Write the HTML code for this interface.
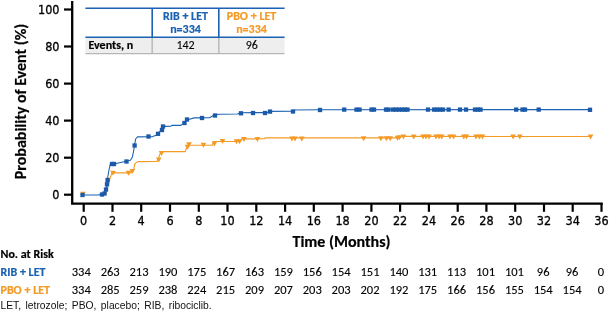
<!DOCTYPE html>
<html><head><meta charset="utf-8"><title>Kaplan-Meier chart</title>
<style>
html,body{margin:0;padding:0;background:#fff;width:609px;height:312px;overflow:hidden}
svg{display:block}
.tk{font-family:"DejaVu Sans","Liberation Sans",sans-serif;font-stretch:condensed;font-size:12.5px;fill:#000;stroke:#000;stroke-width:0.3px}
.cb{font-family:Carlito,"Liberation Sans",sans-serif;font-weight:bold;fill:#000;stroke:#000;stroke-width:0.2px}
.cr{font-family:Carlito,"Liberation Sans",sans-serif;fill:#000;stroke:#000;stroke-width:0.12px}
.ar{font-family:"Liberation Sans",Arial,sans-serif;fill:#111}
</style></head><body>
<svg width="609" height="312" viewBox="0 0 609 312">
<path d="M72.2 1 V203.6 H602.8" fill="none" stroke="#000" stroke-width="2.3" stroke-linejoin="miter"/>
<line x1="64" x2="72" y1="194.7" y2="194.7" stroke="#000" stroke-width="2.2"/>
<text x="59.5" y="199.3" class="tk" text-anchor="end">0</text>
<line x1="64" x2="72" y1="157.7" y2="157.7" stroke="#000" stroke-width="2.2"/>
<text x="59.5" y="162.3" class="tk" text-anchor="end">20</text>
<line x1="64" x2="72" y1="120.6" y2="120.6" stroke="#000" stroke-width="2.2"/>
<text x="59.5" y="125.2" class="tk" text-anchor="end">40</text>
<line x1="64" x2="72" y1="83.6" y2="83.6" stroke="#000" stroke-width="2.2"/>
<text x="59.5" y="88.2" class="tk" text-anchor="end">60</text>
<line x1="64" x2="72" y1="46.5" y2="46.5" stroke="#000" stroke-width="2.2"/>
<text x="59.5" y="51.1" class="tk" text-anchor="end">80</text>
<line x1="64" x2="72" y1="9.5" y2="9.5" stroke="#000" stroke-width="2.2"/>
<text x="59.5" y="14.1" class="tk" text-anchor="end">100</text>
<line x1="83.7" x2="83.7" y1="203.5" y2="211.8" stroke="#000" stroke-width="2.2"/>
<text x="83.7" y="225" class="tk" text-anchor="middle">0</text>
<line x1="112.5" x2="112.5" y1="203.5" y2="211.8" stroke="#000" stroke-width="2.2"/>
<text x="112.5" y="225" class="tk" text-anchor="middle">2</text>
<line x1="141.2" x2="141.2" y1="203.5" y2="211.8" stroke="#000" stroke-width="2.2"/>
<text x="141.2" y="225" class="tk" text-anchor="middle">4</text>
<line x1="170.0" x2="170.0" y1="203.5" y2="211.8" stroke="#000" stroke-width="2.2"/>
<text x="170.0" y="225" class="tk" text-anchor="middle">6</text>
<line x1="198.8" x2="198.8" y1="203.5" y2="211.8" stroke="#000" stroke-width="2.2"/>
<text x="198.8" y="225" class="tk" text-anchor="middle">8</text>
<line x1="227.5" x2="227.5" y1="203.5" y2="211.8" stroke="#000" stroke-width="2.2"/>
<text x="227.5" y="225" class="tk" text-anchor="middle">10</text>
<line x1="256.3" x2="256.3" y1="203.5" y2="211.8" stroke="#000" stroke-width="2.2"/>
<text x="256.3" y="225" class="tk" text-anchor="middle">12</text>
<line x1="285.1" x2="285.1" y1="203.5" y2="211.8" stroke="#000" stroke-width="2.2"/>
<text x="285.1" y="225" class="tk" text-anchor="middle">14</text>
<line x1="313.8" x2="313.8" y1="203.5" y2="211.8" stroke="#000" stroke-width="2.2"/>
<text x="313.8" y="225" class="tk" text-anchor="middle">16</text>
<line x1="342.6" x2="342.6" y1="203.5" y2="211.8" stroke="#000" stroke-width="2.2"/>
<text x="342.6" y="225" class="tk" text-anchor="middle">18</text>
<line x1="371.4" x2="371.4" y1="203.5" y2="211.8" stroke="#000" stroke-width="2.2"/>
<text x="371.4" y="225" class="tk" text-anchor="middle">20</text>
<line x1="400.1" x2="400.1" y1="203.5" y2="211.8" stroke="#000" stroke-width="2.2"/>
<text x="400.1" y="225" class="tk" text-anchor="middle">22</text>
<line x1="428.9" x2="428.9" y1="203.5" y2="211.8" stroke="#000" stroke-width="2.2"/>
<text x="428.9" y="225" class="tk" text-anchor="middle">24</text>
<line x1="457.7" x2="457.7" y1="203.5" y2="211.8" stroke="#000" stroke-width="2.2"/>
<text x="457.7" y="225" class="tk" text-anchor="middle">26</text>
<line x1="486.4" x2="486.4" y1="203.5" y2="211.8" stroke="#000" stroke-width="2.2"/>
<text x="486.4" y="225" class="tk" text-anchor="middle">28</text>
<line x1="515.2" x2="515.2" y1="203.5" y2="211.8" stroke="#000" stroke-width="2.2"/>
<text x="515.2" y="225" class="tk" text-anchor="middle">30</text>
<line x1="544.0" x2="544.0" y1="203.5" y2="211.8" stroke="#000" stroke-width="2.2"/>
<text x="544.0" y="225" class="tk" text-anchor="middle">32</text>
<line x1="572.7" x2="572.7" y1="203.5" y2="211.8" stroke="#000" stroke-width="2.2"/>
<text x="572.7" y="225" class="tk" text-anchor="middle">34</text>
<line x1="601.5" x2="601.5" y1="203.5" y2="211.8" stroke="#000" stroke-width="2.2"/>
<text x="601.5" y="225" class="tk" text-anchor="middle">36</text>
<polyline points="106.3,193.5 107.5,188 109.7,179.5 111.8,173.2 115,172.9 130,172.9 133.5,171 134.3,166 135,163.5 137.9,161.6 157,161.5 158.5,158 160,154 162,151.6 185.3,151.6 186.5,148 188,145.2 212.5,145.1 213.5,141.5 240.5,141.4 241.5,138.9 264.4,138.8 265,137.9 398,137.9 402,136.4 590.6,136.5" fill="none" stroke="#f49a26" stroke-width="1.1" stroke-linejoin="round"/>
<path d="M80.2 191.7h5.6l-2.8 5z" fill="#f49a26"/>
<path d="M110.2 170.7h5.6l-2.8 5z" fill="#f49a26"/>
<path d="M125.7 170.7h5.6l-2.8 5z" fill="#f49a26"/>
<path d="M129.5 169.1h5.6l-2.8 5z" fill="#f49a26"/>
<path d="M156.0 157.5h5.6l-2.8 5z" fill="#f49a26"/>
<path d="M158.7 151.0h5.6l-2.8 5z" fill="#f49a26"/>
<path d="M184.7 144.7h5.6l-2.8 5z" fill="#f49a26"/>
<path d="M186.2 142.2h5.6l-2.8 5z" fill="#f49a26"/>
<path d="M200.6 142.7h5.6l-2.8 5z" fill="#f49a26"/>
<path d="M211.6 141.6h5.6l-2.8 5z" fill="#f49a26"/>
<path d="M219.7 139.1h5.6l-2.8 5z" fill="#f49a26"/>
<path d="M233.7 139.3h5.6l-2.8 5z" fill="#f49a26"/>
<path d="M236.7 139.3h5.6l-2.8 5z" fill="#f49a26"/>
<path d="M241.2 137.1h5.6l-2.8 5z" fill="#f49a26"/>
<path d="M254.6 136.9h5.6l-2.8 5z" fill="#f49a26"/>
<path d="M289.2 136.4h5.6l-2.8 5z" fill="#f49a26"/>
<path d="M292.2 136.4h5.6l-2.8 5z" fill="#f49a26"/>
<path d="M299.0 136.4h5.6l-2.8 5z" fill="#f49a26"/>
<path d="M360.8 136.2h5.6l-2.8 5z" fill="#f49a26"/>
<path d="M378.1 136.2h5.6l-2.8 5z" fill="#f49a26"/>
<path d="M383.7 136.2h5.6l-2.8 5z" fill="#f49a26"/>
<path d="M387.4 136.2h5.6l-2.8 5z" fill="#f49a26"/>
<path d="M394.7 135.7h5.6l-2.8 5z" fill="#f49a26"/>
<path d="M396.7 135.2h5.6l-2.8 5z" fill="#f49a26"/>
<path d="M400.7 134.4h5.6l-2.8 5z" fill="#f49a26"/>
<path d="M410.9 134.4h5.6l-2.8 5z" fill="#f49a26"/>
<path d="M420.2 134.4h5.6l-2.8 5z" fill="#f49a26"/>
<path d="M423.2 134.4h5.6l-2.8 5z" fill="#f49a26"/>
<path d="M426.2 134.4h5.6l-2.8 5z" fill="#f49a26"/>
<path d="M433.2 134.4h5.6l-2.8 5z" fill="#f49a26"/>
<path d="M436.2 134.4h5.6l-2.8 5z" fill="#f49a26"/>
<path d="M439.0 134.4h5.6l-2.8 5z" fill="#f49a26"/>
<path d="M447.2 134.4h5.6l-2.8 5z" fill="#f49a26"/>
<path d="M450.7 134.4h5.6l-2.8 5z" fill="#f49a26"/>
<path d="M461.0 134.4h5.6l-2.8 5z" fill="#f49a26"/>
<path d="M463.7 134.4h5.6l-2.8 5z" fill="#f49a26"/>
<path d="M473.2 134.4h5.6l-2.8 5z" fill="#f49a26"/>
<path d="M476.7 134.4h5.6l-2.8 5z" fill="#f49a26"/>
<path d="M479.7 134.4h5.6l-2.8 5z" fill="#f49a26"/>
<path d="M510.3 134.4h5.6l-2.8 5z" fill="#f49a26"/>
<path d="M517.0 134.4h5.6l-2.8 5z" fill="#f49a26"/>
<path d="M587.8 134.4h5.6l-2.8 5z" fill="#f49a26"/>
<polyline points="83,195 98,195 100,194.6 104,193.6 105.8,190 106.8,185 107.6,178 109,170 110.3,164.2 115,163.8 124,161.7 130.4,160.2 132.4,157 133.6,151 134.6,145 135.6,139 137.5,136.9 152.8,136.6 156,135.2 158.5,133.5 160.5,130.5 162.3,127.3 164.4,126.4 170.8,126.3 171.8,125.4 180.8,125.4 184,123 187,119.9 189.5,119.2 194.2,117.9 209.6,117.8 213.3,115.5 218.3,114.2 237.6,114 240,112.7 267.4,112.6 268.8,111.4 292,111.3 295.3,110 320,109.8 590,109.6" fill="none" stroke="#1b62b3" stroke-width="1.1" stroke-linejoin="round"/>
<rect x="80.35" y="192.85" width="4.3" height="4.3" fill="#1a5aa8"/>
<rect x="99.85" y="192.35" width="4.3" height="4.3" fill="#1a5aa8"/>
<rect x="102.35" y="191.35" width="4.3" height="4.3" fill="#1a5aa8"/>
<rect x="103.85" y="187.35" width="4.3" height="4.3" fill="#1a5aa8"/>
<rect x="104.85" y="182.15" width="4.3" height="4.3" fill="#1a5aa8"/>
<rect x="105.45" y="177.85" width="4.3" height="4.3" fill="#1a5aa8"/>
<rect x="109.85" y="161.85" width="4.3" height="4.3" fill="#1a5aa8"/>
<rect x="111.85" y="161.85" width="4.3" height="4.3" fill="#1a5aa8"/>
<rect x="124.35" y="159.35" width="4.3" height="4.3" fill="#1a5aa8"/>
<rect x="132.45" y="143.35" width="4.3" height="4.3" fill="#1a5aa8"/>
<rect x="146.35" y="134.35" width="4.3" height="4.3" fill="#1a5aa8"/>
<rect x="155.85" y="131.65" width="4.3" height="4.3" fill="#1a5aa8"/>
<rect x="159.85" y="127.85" width="4.3" height="4.3" fill="#1a5aa8"/>
<rect x="160.85" y="124.35" width="4.3" height="4.3" fill="#1a5aa8"/>
<rect x="182.35" y="120.85" width="4.3" height="4.3" fill="#1a5aa8"/>
<rect x="184.85" y="117.35" width="4.3" height="4.3" fill="#1a5aa8"/>
<rect x="199.85" y="115.85" width="4.3" height="4.3" fill="#1a5aa8"/>
<rect x="212.85" y="113.35" width="4.3" height="4.3" fill="#1a5aa8"/>
<rect x="238.85" y="111.15" width="4.3" height="4.3" fill="#1a5aa8"/>
<rect x="250.85" y="110.85" width="4.3" height="4.3" fill="#1a5aa8"/>
<rect x="262.85" y="110.85" width="4.3" height="4.3" fill="#1a5aa8"/>
<rect x="267.85" y="109.45" width="4.3" height="4.3" fill="#1a5aa8"/>
<rect x="290.85" y="109.35" width="4.3" height="4.3" fill="#1a5aa8"/>
<rect x="317.85" y="107.85" width="4.3" height="4.3" fill="#1a5aa8"/>
<rect x="342.05" y="107.45" width="4.3" height="4.3" fill="#1a5aa8"/>
<rect x="354.35" y="107.45" width="4.3" height="4.3" fill="#1a5aa8"/>
<rect x="357.35" y="107.45" width="4.3" height="4.3" fill="#1a5aa8"/>
<rect x="369.35" y="107.45" width="4.3" height="4.3" fill="#1a5aa8"/>
<rect x="371.85" y="107.45" width="4.3" height="4.3" fill="#1a5aa8"/>
<rect x="383.85" y="107.45" width="4.3" height="4.3" fill="#1a5aa8"/>
<rect x="386.35" y="107.45" width="4.3" height="4.3" fill="#1a5aa8"/>
<rect x="390.85" y="107.45" width="4.3" height="4.3" fill="#1a5aa8"/>
<rect x="393.85" y="107.45" width="4.3" height="4.3" fill="#1a5aa8"/>
<rect x="396.85" y="107.45" width="4.3" height="4.3" fill="#1a5aa8"/>
<rect x="399.85" y="107.45" width="4.3" height="4.3" fill="#1a5aa8"/>
<rect x="402.85" y="107.45" width="4.3" height="4.3" fill="#1a5aa8"/>
<rect x="405.35" y="107.45" width="4.3" height="4.3" fill="#1a5aa8"/>
<rect x="425.85" y="107.45" width="4.3" height="4.3" fill="#1a5aa8"/>
<rect x="431.85" y="107.45" width="4.3" height="4.3" fill="#1a5aa8"/>
<rect x="434.85" y="107.45" width="4.3" height="4.3" fill="#1a5aa8"/>
<rect x="437.85" y="107.45" width="4.3" height="4.3" fill="#1a5aa8"/>
<rect x="440.85" y="107.45" width="4.3" height="4.3" fill="#1a5aa8"/>
<rect x="446.45" y="107.45" width="4.3" height="4.3" fill="#1a5aa8"/>
<rect x="457.85" y="107.45" width="4.3" height="4.3" fill="#1a5aa8"/>
<rect x="463.85" y="107.45" width="4.3" height="4.3" fill="#1a5aa8"/>
<rect x="472.85" y="107.45" width="4.3" height="4.3" fill="#1a5aa8"/>
<rect x="475.85" y="107.45" width="4.3" height="4.3" fill="#1a5aa8"/>
<rect x="478.35" y="107.45" width="4.3" height="4.3" fill="#1a5aa8"/>
<rect x="514.05" y="107.45" width="4.3" height="4.3" fill="#1a5aa8"/>
<rect x="520.35" y="107.45" width="4.3" height="4.3" fill="#1a5aa8"/>
<rect x="522.85" y="107.45" width="4.3" height="4.3" fill="#1a5aa8"/>
<rect x="536.55" y="107.45" width="4.3" height="4.3" fill="#1a5aa8"/>
<rect x="587.85" y="107.65" width="4.3" height="4.3" fill="#1a5aa8"/>
<text textLength="98.05" lengthAdjust="spacingAndGlyphs" x="341.5" y="246.5" class="cb" font-size="16" text-anchor="middle">Time (Months)</text>
<text textLength="155.59" lengthAdjust="spacingAndGlyphs" transform="translate(25.6,101.5) rotate(-90)" class="cb" font-size="16" text-anchor="middle">Probability of Event (%)</text>
<rect x="85.4" y="37.9" width="199.2" height="15.2" fill="#eeeeee"/>
<line x1="85.4" x2="284.6" y1="8.3" y2="8.3" stroke="#1b62b3" stroke-width="1.4"/>
<line x1="85.4" x2="284.6" y1="37.2" y2="37.2" stroke="#1b62b3" stroke-width="1.4"/>
<line x1="152.2" x2="152.2" y1="8.3" y2="37.2" stroke="#1b62b3" stroke-width="1.6"/>
<line x1="218.8" x2="218.8" y1="8.3" y2="37.2" stroke="#1b62b3" stroke-width="1.6"/>
<line x1="85.4" x2="284.6" y1="53.6" y2="53.6" stroke="#b6b6b6" stroke-width="1.2"/>
<line x1="152.2" x2="152.2" y1="37.9" y2="53" stroke="#bdbdbd" stroke-width="1.6"/>
<line x1="218.8" x2="218.8" y1="37.9" y2="53" stroke="#bdbdbd" stroke-width="1.6"/>
<text textLength="44.95" lengthAdjust="spacingAndGlyphs" x="185.5" y="19.6" class="cb" font-size="12" style="fill:#1b62b3;stroke:#1b62b3" text-anchor="middle">RIB + LET</text>
<text textLength="30.67" lengthAdjust="spacingAndGlyphs" x="185.5" y="32.7" class="cb" font-size="12" style="fill:#1b62b3;stroke:#1b62b3" text-anchor="middle">n=334</text>
<text textLength="49.50" lengthAdjust="spacingAndGlyphs" x="251.5" y="19.6" class="cb" font-size="12" style="fill:#f49a26;stroke:#f49a26" text-anchor="middle">PBO + LET</text>
<text textLength="30.67" lengthAdjust="spacingAndGlyphs" x="251.5" y="32.7" class="cb" font-size="12" style="fill:#f49a26;stroke:#f49a26" text-anchor="middle">n=334</text>
<text textLength="44.67" lengthAdjust="spacingAndGlyphs" x="88.5" y="48.5" class="cb" font-size="12">Events, n</text>
<text textLength="18.25" lengthAdjust="spacingAndGlyphs" x="185.5" y="49" class="cr" font-size="12" text-anchor="middle">142</text>
<text textLength="12.17" lengthAdjust="spacingAndGlyphs" x="251.8" y="49" class="cr" font-size="12" text-anchor="middle">96</text>
<text textLength="53.22" lengthAdjust="spacingAndGlyphs" x="0.5" y="258.4" class="cb" font-size="12">No. at Risk</text>
<text textLength="44.95" lengthAdjust="spacingAndGlyphs" x="0.5" y="275.8" class="cb" font-size="12" style="fill:#1b62b3;stroke:#1b62b3">RIB + LET</text>
<text textLength="49.50" lengthAdjust="spacingAndGlyphs" x="0.5" y="293.7" class="cb" font-size="12" style="fill:#f49a26;stroke:#f49a26">PBO + LET</text>
<text textLength="19.02" lengthAdjust="spacingAndGlyphs" x="81.3" y="275.9" class="cr" font-size="12.5" text-anchor="middle">334</text>
<text textLength="19.02" lengthAdjust="spacingAndGlyphs" x="81.3" y="293.7" class="cr" font-size="12.5" text-anchor="middle">334</text>
<text textLength="19.02" lengthAdjust="spacingAndGlyphs" x="110.2" y="275.9" class="cr" font-size="12.5" text-anchor="middle">263</text>
<text textLength="19.02" lengthAdjust="spacingAndGlyphs" x="110.2" y="293.7" class="cr" font-size="12.5" text-anchor="middle">285</text>
<text textLength="19.02" lengthAdjust="spacingAndGlyphs" x="139.0" y="275.9" class="cr" font-size="12.5" text-anchor="middle">213</text>
<text textLength="19.02" lengthAdjust="spacingAndGlyphs" x="139.0" y="293.7" class="cr" font-size="12.5" text-anchor="middle">259</text>
<text textLength="19.02" lengthAdjust="spacingAndGlyphs" x="167.9" y="275.9" class="cr" font-size="12.5" text-anchor="middle">190</text>
<text textLength="19.02" lengthAdjust="spacingAndGlyphs" x="167.9" y="293.7" class="cr" font-size="12.5" text-anchor="middle">238</text>
<text textLength="19.02" lengthAdjust="spacingAndGlyphs" x="196.8" y="275.9" class="cr" font-size="12.5" text-anchor="middle">175</text>
<text textLength="19.02" lengthAdjust="spacingAndGlyphs" x="196.8" y="293.7" class="cr" font-size="12.5" text-anchor="middle">224</text>
<text textLength="19.02" lengthAdjust="spacingAndGlyphs" x="225.6" y="275.9" class="cr" font-size="12.5" text-anchor="middle">167</text>
<text textLength="19.02" lengthAdjust="spacingAndGlyphs" x="225.6" y="293.7" class="cr" font-size="12.5" text-anchor="middle">215</text>
<text textLength="19.02" lengthAdjust="spacingAndGlyphs" x="254.5" y="275.9" class="cr" font-size="12.5" text-anchor="middle">163</text>
<text textLength="19.02" lengthAdjust="spacingAndGlyphs" x="254.5" y="293.7" class="cr" font-size="12.5" text-anchor="middle">209</text>
<text textLength="19.02" lengthAdjust="spacingAndGlyphs" x="283.4" y="275.9" class="cr" font-size="12.5" text-anchor="middle">159</text>
<text textLength="19.02" lengthAdjust="spacingAndGlyphs" x="283.4" y="293.7" class="cr" font-size="12.5" text-anchor="middle">207</text>
<text textLength="19.02" lengthAdjust="spacingAndGlyphs" x="312.3" y="275.9" class="cr" font-size="12.5" text-anchor="middle">156</text>
<text textLength="19.02" lengthAdjust="spacingAndGlyphs" x="312.3" y="293.7" class="cr" font-size="12.5" text-anchor="middle">203</text>
<text textLength="19.02" lengthAdjust="spacingAndGlyphs" x="341.1" y="275.9" class="cr" font-size="12.5" text-anchor="middle">154</text>
<text textLength="19.02" lengthAdjust="spacingAndGlyphs" x="341.1" y="293.7" class="cr" font-size="12.5" text-anchor="middle">203</text>
<text textLength="19.02" lengthAdjust="spacingAndGlyphs" x="370.0" y="275.9" class="cr" font-size="12.5" text-anchor="middle">151</text>
<text textLength="19.02" lengthAdjust="spacingAndGlyphs" x="370.0" y="293.7" class="cr" font-size="12.5" text-anchor="middle">202</text>
<text textLength="19.02" lengthAdjust="spacingAndGlyphs" x="398.9" y="275.9" class="cr" font-size="12.5" text-anchor="middle">140</text>
<text textLength="19.02" lengthAdjust="spacingAndGlyphs" x="398.9" y="293.7" class="cr" font-size="12.5" text-anchor="middle">192</text>
<text textLength="19.02" lengthAdjust="spacingAndGlyphs" x="427.7" y="275.9" class="cr" font-size="12.5" text-anchor="middle">131</text>
<text textLength="19.02" lengthAdjust="spacingAndGlyphs" x="427.7" y="293.7" class="cr" font-size="12.5" text-anchor="middle">175</text>
<text textLength="19.02" lengthAdjust="spacingAndGlyphs" x="456.6" y="275.9" class="cr" font-size="12.5" text-anchor="middle">113</text>
<text textLength="19.02" lengthAdjust="spacingAndGlyphs" x="456.6" y="293.7" class="cr" font-size="12.5" text-anchor="middle">166</text>
<text textLength="19.02" lengthAdjust="spacingAndGlyphs" x="485.5" y="275.9" class="cr" font-size="12.5" text-anchor="middle">101</text>
<text textLength="19.02" lengthAdjust="spacingAndGlyphs" x="485.5" y="293.7" class="cr" font-size="12.5" text-anchor="middle">156</text>
<text textLength="19.02" lengthAdjust="spacingAndGlyphs" x="514.4" y="275.9" class="cr" font-size="12.5" text-anchor="middle">101</text>
<text textLength="19.02" lengthAdjust="spacingAndGlyphs" x="514.4" y="293.7" class="cr" font-size="12.5" text-anchor="middle">155</text>
<text textLength="12.67" lengthAdjust="spacingAndGlyphs" x="543.2" y="275.9" class="cr" font-size="12.5" text-anchor="middle">96</text>
<text textLength="19.02" lengthAdjust="spacingAndGlyphs" x="543.2" y="293.7" class="cr" font-size="12.5" text-anchor="middle">154</text>
<text textLength="12.67" lengthAdjust="spacingAndGlyphs" x="572.1" y="275.9" class="cr" font-size="12.5" text-anchor="middle">96</text>
<text textLength="19.02" lengthAdjust="spacingAndGlyphs" x="572.1" y="293.7" class="cr" font-size="12.5" text-anchor="middle">154</text>
<text textLength="6.34" lengthAdjust="spacingAndGlyphs" x="601.0" y="275.9" class="cr" font-size="12.5" text-anchor="middle">0</text>
<text textLength="6.34" lengthAdjust="spacingAndGlyphs" x="601.0" y="293.7" class="cr" font-size="12.5" text-anchor="middle">0</text>
<text x="0.5" y="308.8" class="ar" font-size="10.3" word-spacing="1.6">LET, letrozole; PBO, placebo; RIB, ribociclib.</text>
</svg>
</body></html>
